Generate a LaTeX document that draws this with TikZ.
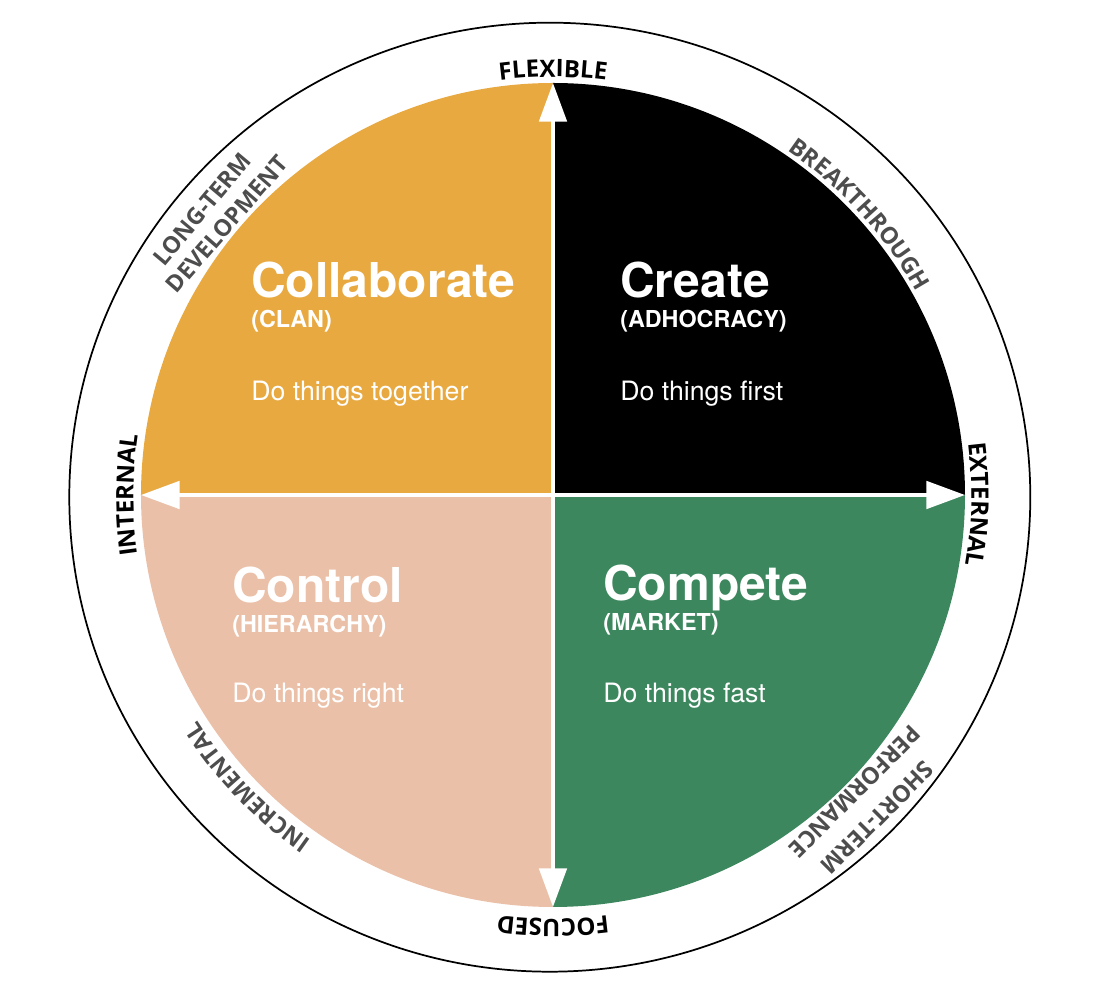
\documentclass[tikz,border=0pt]{standalone}
\usepackage{fontspec}
\setmainfont{TeX Gyre Heros}
\newfontfamily\ringsans{Open Sans}
\usepackage{tikz}
\usetikzlibrary{arrows.meta,decorations.text}

\definecolor{clanorange}{HTML}{E8A941}
\definecolor{hierpink}{HTML}{EBC0A8}
\definecolor{marketgreen}{HTML}{3C875E}
\definecolor{lblgray}{HTML}{4D4D4D}

\newcommand{\axisfont}{\ringsans\bfseries\fontsize{18}{20}\selectfont}
\newcommand{\grayfont}{\ringsans\bfseries\fontsize{17.5}{19}\selectfont\color{lblgray}}

\begin{document}
\begin{tikzpicture}[x=0.75pt,y=0.75pt,
    quadtitle/.style={text=white,inner sep=0pt,anchor=base west,
      font=\fontsize{36}{38}\selectfont\bfseries},
    quadsub/.style={text=white,inner sep=0pt,anchor=base west,
      font=\fontsize{17.5}{19}\selectfont\bfseries},
    quadmotto/.style={text=white,inner sep=0pt,anchor=base west,
      font=\fontsize{20}{22}\selectfont},
    graylbl/.style={inner sep=0pt,font=\grayfont},
    arclbl/.style={decorate,decoration={text along path,text align=center,text={#1}}},
    axisarrow/.style={draw=white,line width=3pt,
      -{Triangle[length=29pt,width=20.5pt]}}]
  \useasboundingbox (-553,-503) rectangle (565,495);

  % Outer ring.
  \draw[line width=1.3pt] (-3.2,-2.2) ellipse [x radius=480.5,y radius=474.5];

  % The four quadrants.
  \coordinate (o) at (0,0);
  \fill[clanorange] (o) -- (180:412) arc[start angle=180,end angle=90,radius=412] -- cycle;
  \fill[black] (o) -- (90:412) arc[start angle=90,end angle=0,radius=412] -- cycle;
  \fill[hierpink] (o) -- (270:412) arc[start angle=270,end angle=180,radius=412] -- cycle;
  \fill[marketgreen] (o) -- (0:412) arc[start angle=0,end angle=-90,radius=412] -- cycle;

  % Axes.
  \coordinate (flex) at (90:412);
  \coordinate (focus) at (270:412);
  \coordinate (intern) at (180:412);
  \coordinate (extern) at (0:412);
  \foreach \tip in {flex,focus,intern,extern}
    {\draw[axisarrow] (o) -- (\tip);}

  % Quadrant texts.
  \node[quadtitle] (collab) at (-302,197) {Collaborate};
  \node[quadsub] (clan) at (-302,167) {(CLAN)};
  \node[quadmotto] (together) at (-302,94) {Do things together};

  \node[quadtitle] (create) at (67,197) {Create};
  \node[quadsub] (adhoc) at (67,167) {(ADHOCRACY)};
  \node[quadmotto] (first) at (67,94) {Do things first};

  \node[quadtitle] (control) at (-321,-108) {Control};
  \node[quadsub] (hier) at (-321,-138) {(HIERARCHY)};
  \node[quadmotto] (right) at (-321,-208) {Do things right};

  \node[quadtitle] (compete) at (50,-106) {Compete};
  \node[quadsub] (market) at (50,-136) {(MARKET)};
  \node[quadmotto] (fast) at (50,-208) {Do things fast};

  % Ring labels, set clockwise so their tops face outward.
  \path[arclbl={|\axisfont|FLEXIBLE}] (125:418) arc[start angle=125,end angle=55,radius=418];
  \path[arclbl={|\axisfont|EXTERNAL}] (33.7:418.5) arc[start angle=33.7,end angle=-36.3,radius=418.5];
  \path[arclbl={|\axisfont|FOCUSED}] (305:424) arc[start angle=305,end angle=235,radius=424];
  \path[arclbl={|\axisfont|INTERNAL}] (215:419.5) arc[start angle=215,end angle=145,radius=419.5];
  \path[arclbl={|\grayfont|BREAKTHROUGH}] (77.5:416.5) arc[start angle=77.5,end angle=7.5,radius=416.5];
  \path[arclbl={|\grayfont|INCREMENTAL}] (258.7:421) arc[start angle=258.7,end angle=188.7,radius=421];

  \node[graylbl,rotate=50] (longterm) at (-351,286) {LONG-TERM};
  \node[graylbl,rotate=49] (develop) at (-326,271) {DEVELOPMENT};
  \node[graylbl,rotate=225] (shortterm) at (324.5,-322.5) {SHORT-TERM};
  \node[graylbl,rotate=225] (perform) at (302,-296.5) {PERFORMANCE};
\end{tikzpicture}
\end{document}
